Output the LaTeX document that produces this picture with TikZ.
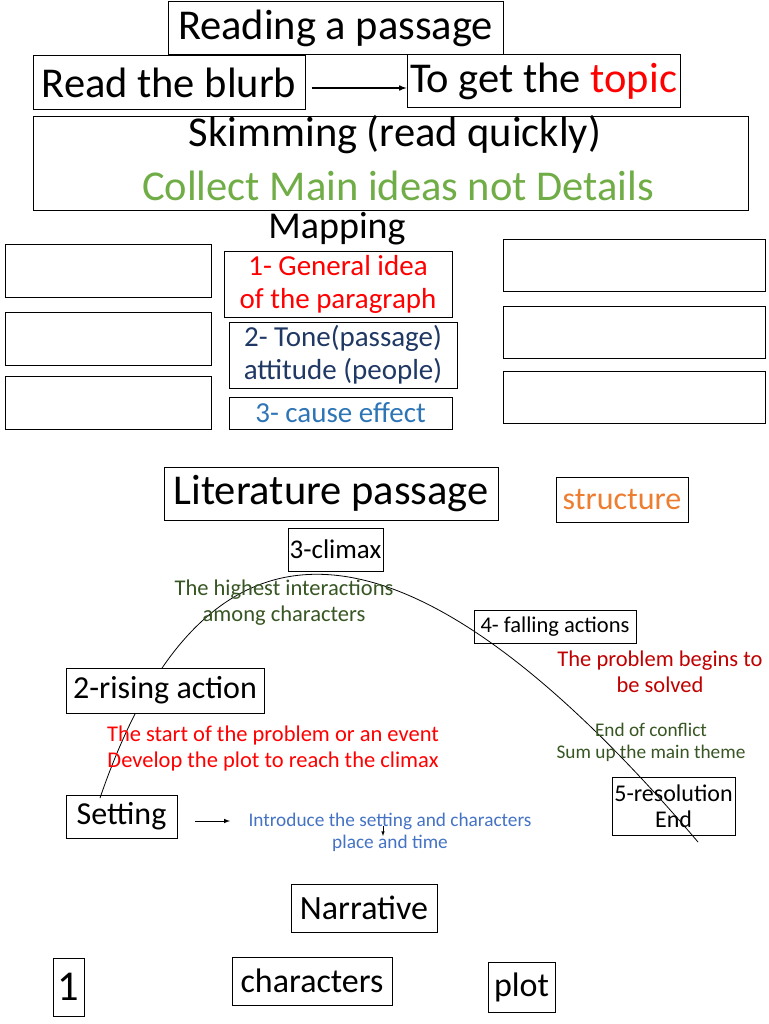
\documentclass[tikz,border=0pt]{standalone}
\usepackage{fontspec}
\setmainfont{Carlito}
\definecolor{cgreen}{HTML}{70AD47}
\definecolor{cnavy}{HTML}{1F3864}
\definecolor{cblue}{HTML}{2E75B6}
\definecolor{corange}{HTML}{ED7D31}
\definecolor{dgreen}{HTML}{375623}
\definecolor{dred}{HTML}{C00000}
\definecolor{lblue}{HTML}{4472C4}
\begin{document}
\begin{tikzpicture}[x=1pt,y=-1pt,
  bx/.style={draw,line width=1pt,inner sep=0pt,align=center},
  tx/.style={inner sep=0pt,align=center},
  f36/.style={font=\fontsize{42.5}{48}\selectfont},
  f26/.style={font=\fontsize{32}{36}\selectfont},
  f24/.style={font=\fontsize{29}{33}\selectfont},
  f19/.style={font=\fontsize{22.5}{26}\selectfont},
  f16/.style={font=\fontsize{19.3}{22}\selectfont},
  arr/.style={-latex,line width=1.5pt}]
\useasboundingbox (0,0) rectangle (768,1024);
\node[bx,f36,minimum width=335,minimum height=53] (rp) at (335.5,28.5) {Reading a passage};
\node[bx,f36,minimum width=272,minimum height=54] (rb) at (169,83) {Read the blurb};
\node[bx,f36,minimum width=273,minimum height=53] (tg) at (543.5,81.5) {To get the \textcolor{red}{topic}};
\draw[arr] (rb.east)++(6,5) coordinate (a1) -- (a1-|tg.west);
\node[bx,minimum width=715,minimum height=94] (sk) at (390.5,164) {};
\node[tx,f36] (sk1) at (395,135) {Skimming (read quickly)};
\node[tx,f36,text=cgreen] (sk2) at (398,186) {Collect Main ideas not Details};
\node[tx,font=\fontsize{38}{42}\selectfont] (mp) at (337,229) {Mapping};
\node[bx,minimum width=206,minimum height=53] (l1) at (108,270.5) {};
\node[bx,minimum width=206,minimum height=53] (l2) at (108,338.5) {};
\node[bx,minimum width=206,minimum height=53] (l3) at (108,402.5) {};
\node[bx,f24,text=red,minimum width=228,minimum height=66] (m1) at (338,284) {1- General idea\\of the paragraph};
\node[bx,f24,text=cnavy,minimum width=228,minimum height=66] (m2) at (343,355) {2- Tone(passage)\\attitude (people)};
\node[bx,f24,text=cblue,minimum width=223,minimum height=32] (m3) at (340.5,413) {3- cause effect};
\node[bx,minimum width=262,minimum height=52] (r1) at (634,265) {};
\node[bx,minimum width=262,minimum height=52] (r2) at (634,332) {};
\node[bx,minimum width=262,minimum height=52] (r3) at (634,397) {};
\node[bx,f36,minimum width=334,minimum height=53] (lp) at (331,493.5) {Literature passage};
\node[bx,f26,text=corange,minimum width=132,minimum height=45] (st) at (622,499.5) {structure};
\draw[line width=0.8pt] (100,798) .. controls (207,486) and (407,500) .. (698,842);
\node[bx,font=\fontsize{27}{30}\selectfont,fill=white,minimum width=95,minimum height=43] (cl) at (335.5,549.5) {3-climax};
\node[tx,f19,text=dgreen] (hi) at (284,603) {The highest interactions\\among characters};
\node[bx,f19,minimum width=162,minimum height=33] (fa) at (555,626.5) {4- falling actions};
\node[tx,f19,text=dred] (pb) at (660,672) {The problem begins to\\be solved};
\node[bx,f26,fill=white,minimum width=198,minimum height=45] (ra) at (165,690.5) {2-rising action};
\node[tx,f19,text=red] (sp) at (273,748) {The start of the problem or an event\\Develop the plot to reach the climax};
\node[tx,f16,text=dgreen] (ec) at (651,742) {End of conflict\\Sum up the main theme};
\node[bx,f26,minimum width=111,minimum height=43] (se) at (121.5,816.5) {Setting};
\node[tx,f16,text=lblue] (in) at (390,832) {Introduce the setting and characters\\place and time};
\coordinate (a2) at (195,821);
\coordinate (a2e) at (230,821);
\draw[arr,line width=1pt] (a2) -- (a2e);
\coordinate (a3) at (383,826);
\draw[-latex,line width=0.6pt] (a3) -- ++(0,10);
\node[bx,font=\fontsize{24}{26}\selectfont,minimum width=123,minimum height=58] (re) at (673.5,806) {5-resolution\\End};
\node[bx,font=\fontsize{34}{38}\selectfont,minimum width=146,minimum height=48] (na) at (364,908) {Narrative};
\node[bx,f36,minimum width=31,minimum height=58] (n1) at (68.5,987) {1};
\node[bx,font=\fontsize{34}{38}\selectfont,minimum width=160,minimum height=48] (ch) at (312,981) {characters};
\node[bx,font=\fontsize{34}{38}\selectfont,minimum width=67,minimum height=50] (pl) at (521.5,987) {plot};
\end{tikzpicture}
\end{document}
